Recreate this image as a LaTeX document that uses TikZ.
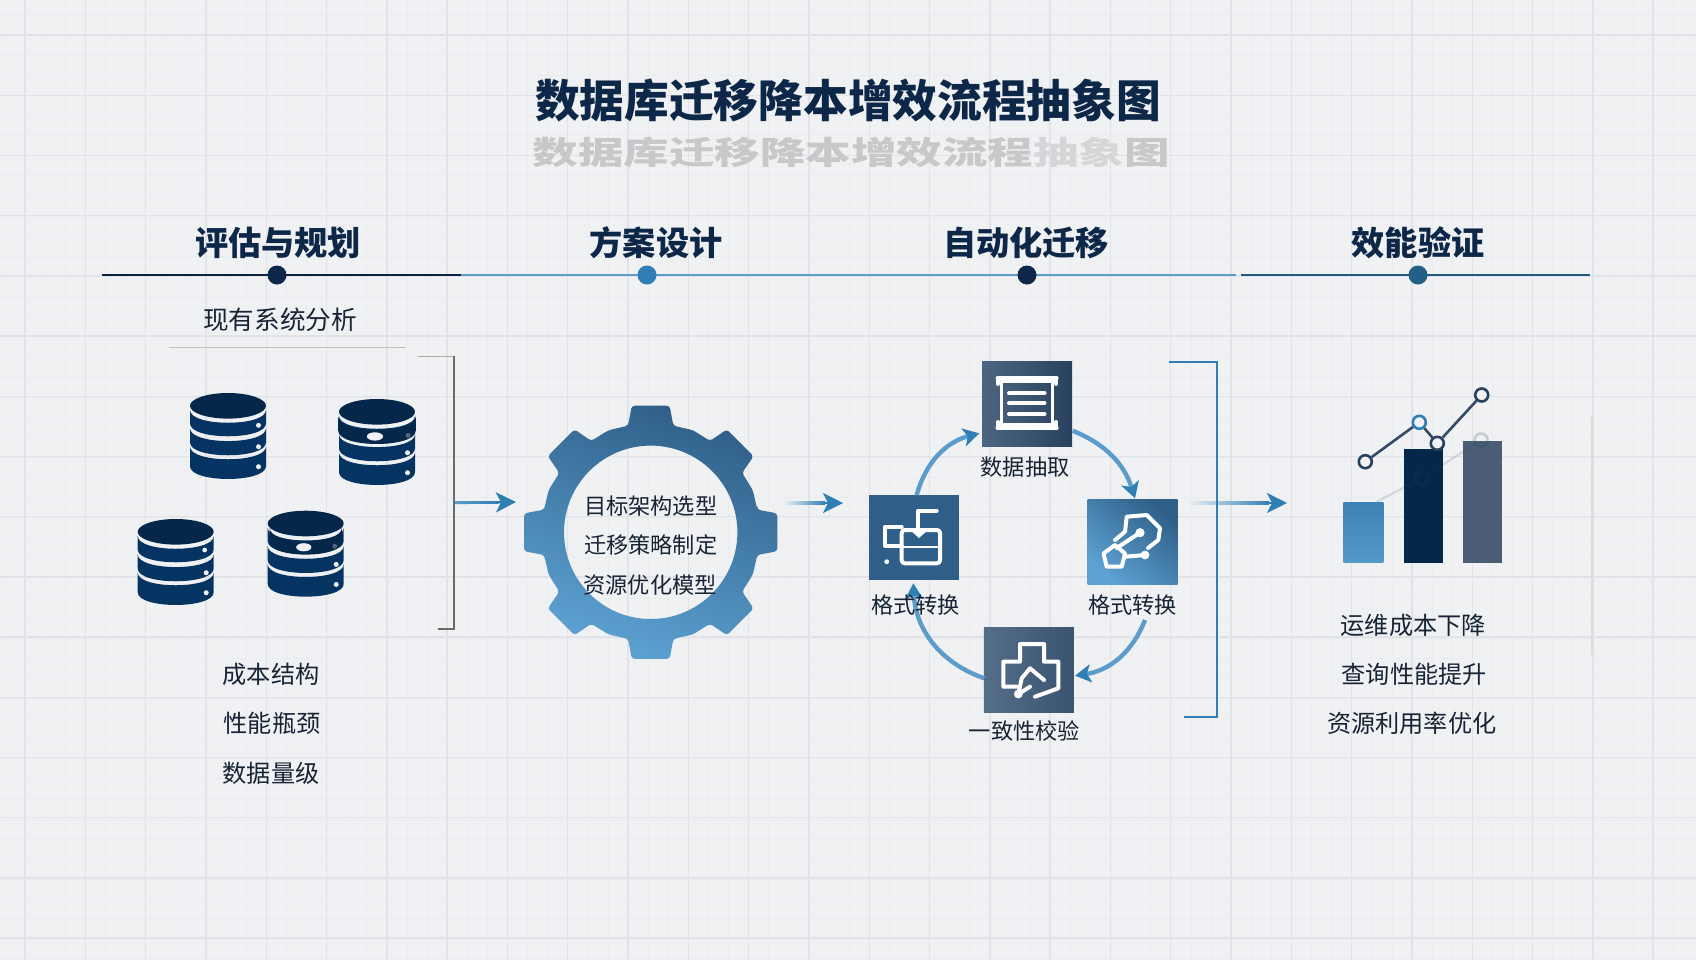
\documentclass[tikz,border=0pt]{standalone}
\usepackage{fontspec}
\setmainfont{Noto Sans CJK SC}
\usetikzlibrary{calc,arrows.meta}

\definecolor{pagebg}{HTML}{F0F1F3}
\definecolor{gridmajor}{HTML}{E2E3E7}
\definecolor{gridminor}{HTML}{EBECEF}
\definecolor{inkdark}{HTML}{0C2748}
\definecolor{inktext}{HTML}{162436}
\definecolor{dbtop}{HTML}{04274A}
\definecolor{dbband}{HTML}{063462}
\definecolor{flowblue}{HTML}{2F7FB5}
\definecolor{ringblue}{HTML}{5C9CCB}
\definecolor{geardark}{HTML}{2F5F88}
\definecolor{gearlight}{HTML}{5DA2D3}
\definecolor{slatedark}{HTML}{28415F}
\definecolor{slatelight}{HTML}{4C6682}
\definecolor{slatebar}{HTML}{4A5D75}
\definecolor{bartop}{HTML}{3E81B5}
\definecolor{barlow}{HTML}{5599CB}

\tikzset{
	titletext/.style={font=\fontsize{22.35}{24}\selectfont\bfseries,text=inkdark,inner sep=0pt},
	echotext/.style={font=\fontsize{22.75}{24}\selectfont\bfseries,text=black!17!pagebg,inner sep=0pt,transform shape,yscale=.7},
	steptext/.style={font=\fontsize{16.6}{18}\selectfont\bfseries,text=inkdark,inner sep=0pt},
	bodytext/.style={font=\fontsize{12.1}{14}\selectfont,text=inktext,inner sep=0pt},
	geartext/.style={font=\fontsize{11.1}{13}\selectfont,text=inktext,inner sep=0pt},
	cycletext/.style={font=\fontsize{11.1}{13}\selectfont,text=inktext,inner sep=0pt},
	stepdot/.style={circle,inner sep=0pt,minimum size=9.5pt},
	iconbox/.style={rectangle,inner sep=0pt,minimum width=45pt,minimum height=42.5pt},
	iconline/.style={draw=white!95!pagebg,line width=2pt,line cap=round,line join=round},
	flowline/.style={draw=flowblue,line width=1.2pt,-{Stealth[length=10pt,width=10pt,inset=2.5pt]}},
	ringline/.style={draw=ringblue,line width=2.2pt,-{Stealth[length=8pt,width=9pt,inset=2pt,color=flowblue]}},
	chartdot/.style={circle,draw=#1,fill=pagebg,line width=1.3pt,inner sep=0pt,minimum size=6.5pt},
	dbstack/.pic={
		\fill[dbtop] (0,12.8) ellipse [x radius=38,y radius=12.8];
		\foreach \yy/\hh in {17/13.5,35.3/14.2,53.5/19.7} {
			\fill[dbband] (-38,\yy) .. controls (-38,\yy+17) and (38,\yy+17) .. (38,\yy)
				-- (38,\yy+\hh) .. controls (38,\yy+\hh+17) and (-38,\yy+\hh+17) .. (-38,\yy+\hh) -- cycle;
		}
		\fill[pagebg] (30.5,53.7) circle [radius=2.5];
		\fill[pagebg] (30.5,73.7) circle [radius=2.5];
	},
	dbplain/.pic={
		\pic {dbstack};
		\fill[pagebg] (30.5,32.3) circle [radius=2.5];
	},
	dbserver/.pic={
		\pic {dbstack};
		\fill[dbtop] (-38,17) .. controls (-38,34) and (38,34) .. (38,17)
			-- (38,30.5) .. controls (38,47.5) and (-38,47.5) .. (-38,30.5) -- cycle;
		\fill[pagebg] (-2,36) ellipse [x radius=8,y radius=4];
		\fill[slatelight] (30.5,35) circle [radius=2.5];
	}
}

\newcommand{\flowarrow}[3][pagebg]{
	\draw[flowline] (#2) -- (#3);
	\shade[left color=#1,right color=flowblue] ($(#2)+(0,-1.5)$) rectangle ($(#3)+(-18,1.5)$);
}

\begin{document}
\begin{tikzpicture}[x=.5pt,y=-.5pt]
	\useasboundingbox (0,0) rectangle (1696,960);
	\fill[pagebg] (0,0) rectangle (1696,960);

	% grid
	\foreach \x in {0,...,84} {
		\draw[gridminor,line width=.4pt] (5+20.1*\x,0) -- (5+20.1*\x,960);
	}
	\foreach \y in {0,...,47} {
		\draw[gridminor,line width=.4pt] (0,15+20.1*\y) -- (1696,15+20.1*\y);
	}
	\foreach \x in {0,...,27} {
		\draw[gridmajor,line width=.7pt] (25+60.3*\x,0) -- (25+60.3*\x,960);
	}
	\foreach \y in {0,...,15} {
		\draw[gridmajor,line width=.7pt] (0,35+60.2*\y) -- (1696,35+60.2*\y);
	}

	% title
	\node[titletext] (title) at (848,100) {数据库迁移降本增效流程抽象图};
	\node[echotext] (echo) at (851,152) {数据库迁移降本增效流程{\color{black!11!pagebg}抽象}图};

	% timeline
	\coordinate (lineA) at (102,275);
	\coordinate (lineB) at (461,275);
	\coordinate (lineC) at (1236,275);
	\coordinate (lineD) at (1241,275);
	\coordinate (lineE) at (1590,275);
	\draw[color=inkdark!90!black,line width=1.2pt] (lineA) -- (lineB);
	\draw[color=ringblue,line width=1pt] (lineB) -- (lineC);
	\draw[color=flowblue!70!black,line width=1.1pt] (lineD) -- (lineE);

	\node[stepdot,fill=inkdark] (dotA) at (277,275) {};
	\node[stepdot,fill=flowblue] (dotB) at (647,275) {};
	\node[stepdot,fill=inkdark] (dotC) at (1027,275) {};
	\node[stepdot,fill=flowblue!75!black] (dotD) at (1418,275) {};

	\node[steptext] (stepA) at (278,242.5) {评估与规划};
	\node[steptext] (stepB) at (656,242.5) {方案设计};
	\node[steptext] (stepC) at (1026,242.5) {自动化迁移};
	\node[steptext] (stepD) at (1418,242.5) {效能验证};

	% system analysis
	\node[bodytext,font=\fontsize{12.8}{14}\selectfont] (survey) at (280,320) {现有系统分析};
	\coordinate (ruleL) at (169,347);
	\coordinate (ruleR) at (406,347);
	\draw[color=black!25,line width=.5pt] (ruleL) -- (ruleR);

	\pic[xscale=1,yscale=1] at (228,393) {dbplain};
	\pic[xscale=1.02,yscale=1.04] at (377,399) {dbserver};
	\pic[xscale=.95,yscale=.96] at (175.7,519) {dbplain};
	\pic[xscale=.95,yscale=1.015] at (305.7,510.7) {dbserver};

	\node[bodytext] (costs) at (271,674) {成本结构};
	\node[bodytext] (limits) at (272,723.5) {性能瓶颈};
	\node[bodytext] (volume) at (271,773) {数据量级};

	% arrows between the stages
	\coordinate (arrAs) at (454,503);
	\coordinate (arrAe) at (516,502);
	\coordinate (arrBs) at (783,503);
	\coordinate (arrBe) at (843,503);
	\coordinate (arrCs) at (1187,503);
	\coordinate (arrCe) at (1287,503);
	\flowarrow[ringblue]{arrAs}{arrAe}
	\flowarrow{arrBs}{arrBe}
	\flowarrow{arrCs}{arrCe}

	% brackets
	\coordinate (brkAa) at (418,356);
	\coordinate (brkAb) at (454,356);
	\coordinate (brkAc) at (454,629);
	\coordinate (brkAd) at (438,629);
	\draw[color=black!32,line width=.4pt] (brkAa) -- (brkAb);
	\draw[color=black!58,line width=.6pt] (brkAb) -- (brkAc) -- (brkAd);
	\coordinate (brkBa) at (1169,362);
	\coordinate (brkBb) at (1217,362);
	\coordinate (brkBc) at (1217,717);
	\coordinate (brkBd) at (1184,717);
	\draw[color=flowblue,line width=.7pt] (brkBa) -- (brkBb) -- (brkBc) -- (brkBd);

	% gear
	\begin{scope}[shift={(650.7,532.3)}]
		\shade[top color=geardark,bottom color=gearlight,shading angle=-20,even odd rule,rounded corners=1.5pt]
			(348:109) foreach \a in {0,45,...,315} {
				-- (\a-12:109) -- (\a-8.5:128) -- (\a+8.5:128) -- (\a+12:109) -- (\a+22.5:110.5)
			} -- cycle (0,0) circle [radius=86.7];
	\end{scope}
	\node[geartext] (gearA) at (650.7,505.7) {目标架构选型};
	\node[geartext] (gearB) at (650.7,545) {迁移策略制定};
	\node[geartext] (gearC) at (650,585) {资源优化模型};

	% migration cycle
	\node[iconbox,left color=slatelight,right color=slatedark] (boxTop) at (1027,404) {};
	\node[iconbox,top color=geardark,bottom color=gearlight,shading angle=-40] (boxRight) at (1132.7,541.5) {};
	\node[iconbox,fill=geardark] (boxLeft) at (913.7,537.5) {};
	\node[iconbox,left color=slatelight!95!white,right color=slatedark!50!slatelight] (boxBottom) at (1028.8,669.7) {};

	\coordinate (ringAs) at (916.7,495);
	\coordinate (ringAe) at (979.3,433.3);
	\coordinate (ringBs) at (1072.7,430.7);
	\coordinate (ringBe) at (1135,498.3);
	\coordinate (ringCs) at (1145,620);
	\coordinate (ringCe) at (1075,675.7);
	\coordinate (ringDs) at (984.3,678.3);
	\coordinate (ringDe) at (913.3,583.3);
	\draw[ringline] (ringAs) to[bend left=30] (ringAe);
	\draw[ringline] (ringBs) to[bend left=25] (ringBe);
	\draw[ringline] (ringCs) to[bend left=30] (ringCe);
	\draw[ringline] (ringDs) to[bend left=34] (ringDe);

	\node[cycletext] (labTop) at (1025,467.3) {数据抽取};
	\node[cycletext] (labRight) at (1132.7,605) {格式转换};
	\node[cycletext] (labLeft) at (915.7,605) {格式转换};
	\node[cycletext] (labBottom) at (1024.3,730.7) {一致性校验};

	% icon: extraction
	\draw[iconline,line width=1.7pt] (1001.7,381) rectangle (1052.7,425);
	\draw[iconline] (997.5,378.3) -- (1056.7,378.3);
	\draw[iconline] (997.5,428) -- (1056.7,428);
	\draw[iconline] (998,378.3) -- (998,384);
	\draw[iconline] (1056,378.3) -- (1056,384);
	\draw[iconline] (998,428) -- (998,422);
	\draw[iconline] (1056,428) -- (1056,422);
	\foreach \y in {393.3,403.3,414} {
		\draw[iconline] (1009,\y) -- (1044.5,\y);
	}
	% icon: conversion, left
	\draw[iconline,rounded corners=1.5pt] (901.7,530) rectangle (940,563.3);
	\draw[iconline,line width=1pt] (901.7,546.7) -- (940,546.7);
	\draw[iconline] (936.7,510.7) -- (918.3,510.7) -- (918.3,530);
	\fill[white!95!pagebg] (910,530) -- (919,538) -- (928,530) -- cycle;
	\draw[iconline] (901.7,526.7) -- (885,526.7) -- (885,546) -- (901.7,546);
	\fill[white!95!pagebg] (886.7,561.7) circle [radius=2.4];
	% icon: conversion, right
	\draw[iconline] (1103.5,553.5) -- (1115,545) -- (1125,553.5) -- (1121.7,566.7) -- (1106.7,566.7) -- cycle;
	\draw[iconline] (1116.7,548) -- (1140,532.7);
	\draw[iconline] (1125,556.7) -- (1145,555);
	\draw[iconline] (1115,540) -- (1125,531.7) -- (1126.7,516.7) -- (1146.7,515) -- (1160,528.3) -- (1158.3,540) -- (1148,548);
	\fill[white!95!pagebg] (1140,532.7) circle [radius=4.6];
	\fill[white!95!pagebg] (1145,555) circle [radius=4.4];
	% icon: validation
	\draw[iconline] (1035,696.7) -- (1058.3,688.3) -- (1058.3,661.7) -- (1044,661.7) -- (1044,644) -- (1020,644) -- (1020,661.7) -- (1003.3,661.7) -- (1003.3,686.7) -- (1016.7,686.7);
	\draw[iconline] (1018.3,694) -- (1021.7,678.3) -- (1030,668.3) -- (1044,680);
	\draw[iconline] (1018.3,694) -- (1030,686.7);
	\fill[white!95!pagebg] (1018.3,694) circle [radius=4.4];

	% chart
	\shade[top color=bartop,bottom color=barlow] (1343.3,502.3) rectangle (1383.3,562.7);
	\fill[dbtop] (1404,448.7) rectangle (1443.3,563.3);
	\fill[slatebar] (1463.3,441.3) rectangle (1502,563.3);

	\node[chartdot=slatedark,fill=none,opacity=.2] (ghostA) at (1421.7,478.3) {};
	\node[chartdot=slatedark,fill=none,opacity=.2] (ghostB) at (1481,440) {};
	\coordinate (ghostS) at (1376.7,501.7);
	\draw[color=slatedark,opacity=.15,line width=1pt] (ghostS) -- (ghostA) -- (ghostB);

	\node[chartdot=slatedark] (ptA) at (1365.3,461.7) {};
	\node[chartdot=flowblue] (ptB) at (1419.3,422.3) {};
	\node[chartdot=slatedark] (ptC) at (1437.3,443.3) {};
	\node[chartdot=slatedark] (ptD) at (1481.7,395) {};
	\draw[color=slatedark!85!gray,line width=1.3pt] (ptA) -- (ptB) -- (ptC) -- (ptD);

	\node[bodytext] (gainA) at (1413.3,625) {运维成本下降};
	\node[bodytext] (gainB) at (1414.3,674.3) {查询性能提升};
	\node[bodytext] (gainC) at (1411.7,723.3) {资源利用率优化};

	\coordinate (edgeT) at (1592,416);
	\coordinate (edgeB) at (1592,655);
	\draw[color=black!14,line width=.6pt] (edgeT) -- (edgeB);
\end{tikzpicture}
\end{document}
